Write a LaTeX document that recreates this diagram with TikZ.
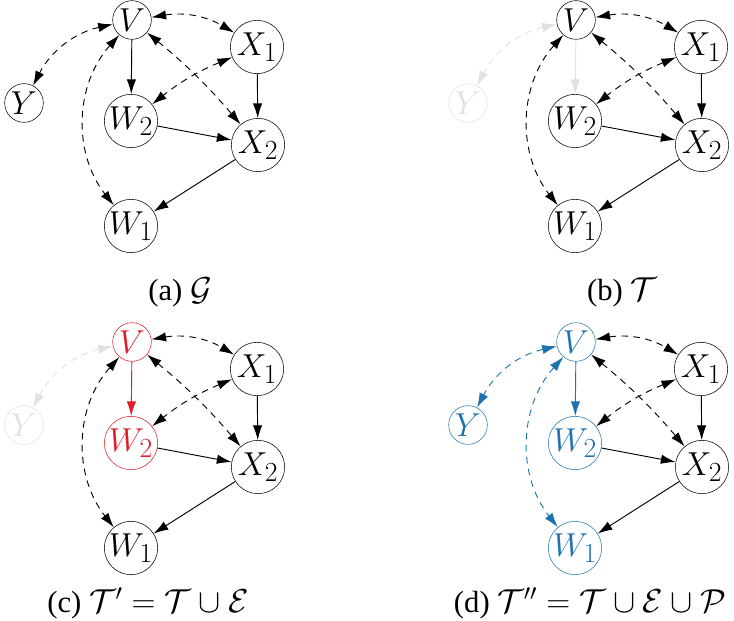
\documentclass[tikz,border=0pt]{standalone}
\usepackage{fontspec}
\setmainfont{Liberation Serif}
\usepackage{amssymb}
\usetikzlibrary{arrows.meta}
\definecolor{myred}{RGB}{220,30,40}
\definecolor{myblue}{RGB}{30,115,175}
\definecolor{faint}{RGB}{225,225,225}
\tikzset{
 vtx/.style={circle,draw,minimum size=40pt,inner sep=0pt,font=\Huge},
 svtx/.style={circle,draw,minimum size=29pt,inner sep=0pt,font=\Huge},
 ed/.style={-{Latex[length=11pt,width=7pt]},line width=0.7pt},
 bi/.style={{Latex[length=11pt,width=7pt]}-{Latex[length=11pt,width=7pt]},dash pattern=on 5pt off 4pt,line width=0.7pt},
 captxt/.style={font=\fontsize{23}{27}\selectfont}
}
% #1 dx #2 dy #3 prefix #4 Y #5 V #6 W2 #7 W1 #8 VY #9 VW2
\newcommand{\mypanel}[9]{%
\begin{scope}[shift={(#1,#2)}]
\node[svtx,draw=#4,text=#4] (#3Y) at (24,103) {$Y$};
\node[svtx,draw=#5,text=#5] (#3V) at (132,20) {$V$};
\node[vtx] (#3X1) at (257,47) {$X_1$};
\node[vtx,draw=#6,text=#6] (#3W2) at (131,121) {$W_2$};
\node[vtx] (#3X2) at (258,145) {$X_2$};
\node[vtx,draw=#7,text=#7] (#3W1) at (131,226) {$W_1$};
\draw[bi,#8] (#3V) to[bend right=25] (#3Y);
\draw[ed,#9] (#3V) -- (#3W2);
\draw[ed] (#3W2) -- (#3X2);
\draw[ed] (#3X1) -- (#3X2);
\draw[ed] (#3X2) -- (#3W1);
\draw[bi] (#3V) to[bend left=20] (#3X1);
\draw[bi] (#3V) to[bend left=5] (#3X2);
\draw[bi] (#3X1) to[bend right=8] (#3W2);
\draw[bi,#7] (#3V) to[bend right=40] (#3W1);
\end{scope}}
\begin{document}
\begin{tikzpicture}[x=0.75pt,y=-0.75pt]
\useasboundingbox (0,0) rectangle (734,620);
\mypanel{0}{0}{a}{black}{black}{black}{black}{black}{black}
\mypanel{444}{0}{b}{faint}{black}{black}{black}{faint}{faint}
\mypanel{0}{322}{c}{faint}{myred}{myred}{black}{faint}{myred}
\mypanel{444}{322}{d}{myblue}{myblue}{myblue}{myblue}{myblue}{myblue}
\node[captxt] (ca) at (180,292) {(a) $\mathcal{G}$};
\node[captxt] (cb) at (622,292) {(b) $\mathcal{T}$};
\node[captxt] (cc) at (148,603) {(c) $\mathcal{T}'=\mathcal{T}\cup\mathcal{E}$};
\node[captxt] (cd) at (590,603) {(d) $\mathcal{T}''=\mathcal{T}\cup\mathcal{E}\cup\mathcal{P}$};
\end{tikzpicture}
\end{document}
